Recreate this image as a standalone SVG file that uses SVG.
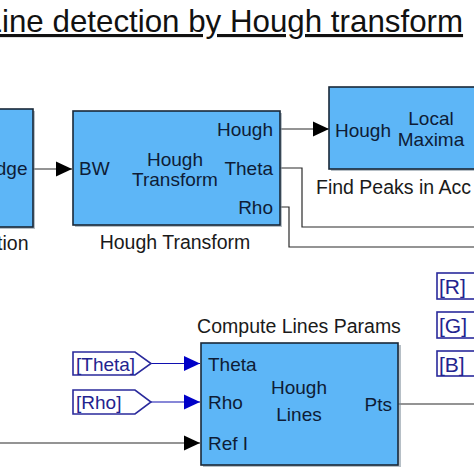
<svg xmlns="http://www.w3.org/2000/svg" width="474" height="474" viewBox="0 0 474 474">
<style>
text{font-family:"Liberation Sans",Arial,sans-serif;}
.blk{fill:#5db6f7;stroke:#1a2838;stroke-width:1.6;}
.shd{fill:#7a8a98;opacity:0.55;}
.bt{font-size:19px;fill:#0e1c36;}
.lbl{font-size:19.5px;fill:#1a1a1a;}
.tag{fill:#ffffff;stroke:#2a2a9c;stroke-width:1.6;}
.tt{font-size:19px;fill:#23238f;}
.tr{font-size:21px;fill:#23238f;}
.wire{fill:none;stroke:#2a2a2a;stroke-width:1.2;}
.bwire{fill:none;stroke:#1010b0;stroke-width:1.2;}
</style>
<defs>
<marker id="ak" markerUnits="userSpaceOnUse" markerWidth="16" markerHeight="16" viewBox="0 0 15 14" refX="15" refY="7" orient="auto">
<path d="M0,0 L15,7 L0,14 Z" fill="#000"/>
</marker>
<marker id="ab" markerUnits="userSpaceOnUse" markerWidth="16" markerHeight="16" viewBox="0 0 15 14" refX="15" refY="7" orient="auto">
<path d="M0,0 L15,7 L0,14 Z" fill="#0000c8"/>
</marker>
</defs>
<rect width="474" height="474" fill="#fff"/>
<text x="-15.4" y="32" style="font-size:31.3px;text-decoration:underline;" fill="#111">Line detection by Hough transform</text>

<g id="connectors">
<path class="wire" d="M33,169 H72" marker-end="url(#ak)"/>
<path class="wire" d="M280,129 H329" marker-end="url(#ak)"/>
<path class="wire" d="M280,168 H302 V227 H474"/>
<path class="wire" d="M280,207 H289 V247 H474"/>
<path class="bwire" d="M151,363.5 H200" marker-end="url(#ab)"/>
<path class="bwire" d="M151,402 H200" marker-end="url(#ab)"/>
<path class="wire" d="M0,443 H200" marker-end="url(#ak)"/>
<path class="wire" d="M398,404 H474"/>
</g>

<g id="edge-detection">
<rect class="shd" x="-10" y="111" width="45" height="118"/>
<rect class="blk" x="-10" y="109" width="43" height="118"/>
<text class="bt" x="27.5" y="175" text-anchor="end">dge</text>
<text class="lbl" x="28.5" y="250" text-anchor="end">tion</text>
</g>

<g id="hough-transform">
<rect class="shd" x="75" y="113" width="207" height="114"/>
<rect class="blk" x="73" y="111" width="207" height="114"/>
<text class="bt" x="79" y="175">BW</text>
<text class="bt" x="175" y="166" text-anchor="middle">Hough</text>
<text class="bt" x="175" y="186" text-anchor="middle">Transform</text>
<text class="bt" x="273" y="136" text-anchor="end">Hough</text>
<text class="bt" x="273" y="175" text-anchor="end">Theta</text>
<text class="bt" x="273" y="214" text-anchor="end">Rho</text>
<text class="lbl" x="175" y="249" text-anchor="middle">Hough Transform</text>
</g>

<g id="find-peaks">
<rect class="shd" x="331" y="89" width="210" height="82"/>
<rect class="blk" x="329" y="87" width="210" height="82"/>
<text class="bt" x="335" y="137">Hough</text>
<text class="bt" x="431" y="125" text-anchor="middle">Local</text>
<text class="bt" x="431" y="146" text-anchor="middle">Maxima</text>
<text class="lbl" x="316" y="194">Find Peaks in Acc</text>
</g>

<g id="from-R">
<rect class="tag" x="437" y="273" width="50" height="26"/>
<text class="tr" x="439" y="294">[R]</text>
</g>
<g id="from-G">
<rect class="tag" x="437" y="312" width="50" height="26"/>
<text class="tr" x="439" y="333">[G]</text>
</g>
<g id="from-B">
<rect class="tag" x="437" y="351" width="50" height="25"/>
<text class="tr" x="439" y="371.5">[B]</text>
</g>

<g id="goto-theta">
<path class="tag" d="M73,352 H135 L151,363.5 L135,375 H73 Z"/>
<text class="tt" x="76" y="370.5">[Theta]</text>
</g>
<g id="goto-rho">
<path class="tag" d="M73,390 H135 L151,402 L135,414 H73 Z"/>
<text class="tt" x="76" y="409">[Rho]</text>
</g>

<g id="compute-lines">
<rect class="shd" x="203" y="345" width="198" height="122"/>
<rect class="blk" x="201" y="343" width="197" height="122"/>
<text class="lbl" x="299" y="333" text-anchor="middle">Compute Lines Params</text>
<text class="bt" x="208" y="370.5">Theta</text>
<text class="bt" x="208" y="409">Rho</text>
<text class="bt" x="208" y="450">Ref I</text>
<text class="bt" x="299" y="394" text-anchor="middle">Hough</text>
<text class="bt" x="299" y="421" text-anchor="middle">Lines</text>
<text class="bt" x="392" y="411" text-anchor="end">Pts</text>
</g>
</svg>
